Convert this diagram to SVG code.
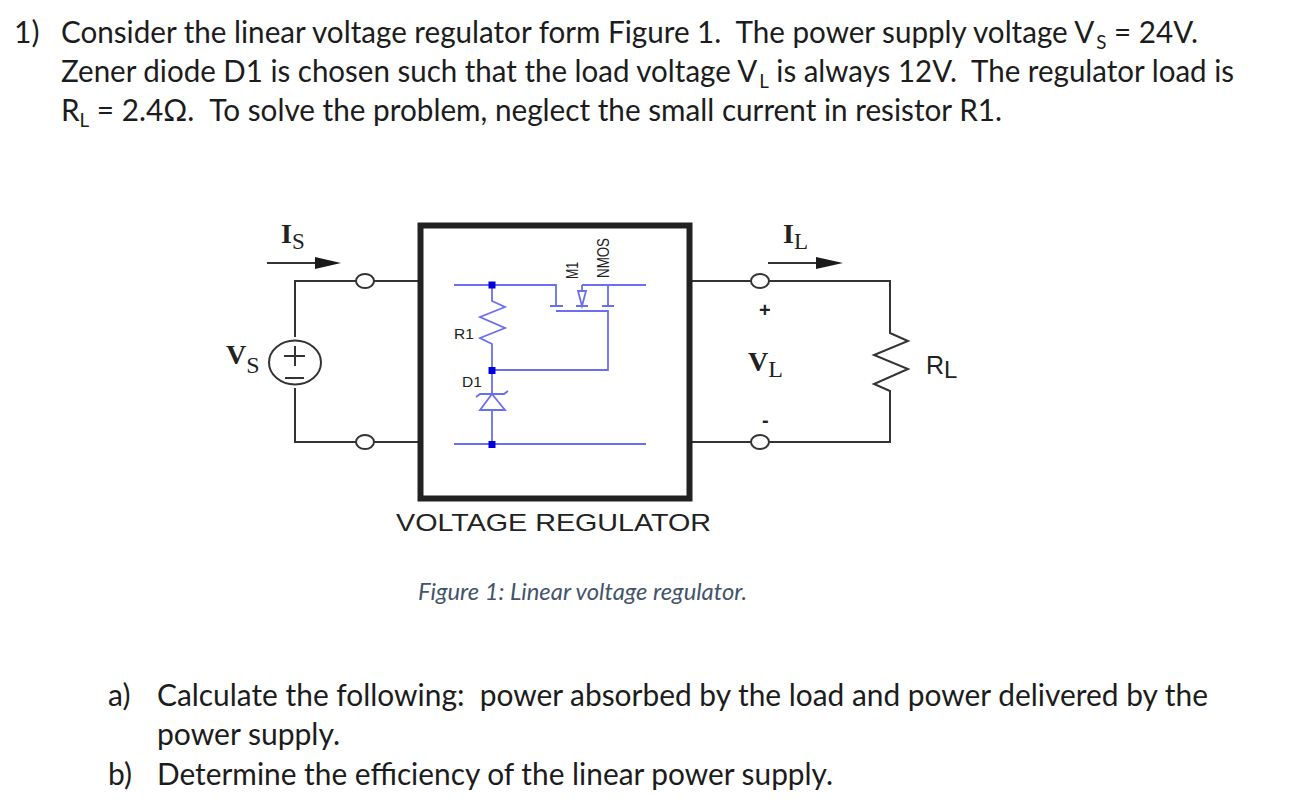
<svg xmlns="http://www.w3.org/2000/svg" width="1296" height="804" viewBox="0 0 1296 804">
<style>
.t{font-family:Lato,"Open Sans","Liberation Sans",sans-serif;font-size:30px;fill:#1c1c1c;white-space:pre}
.c{font-family:Lato,"Open Sans","Liberation Sans",sans-serif;font-size:22.5px;font-style:italic;fill:#44546a}
.s{font-family:"Liberation Serif",serif;font-size:28px;fill:#222}
.b{font-family:"Liberation Sans",sans-serif;fill:#222}
.sub{font-size:19px}
.w{fill:none;stroke:#333;stroke-width:2}
.u{fill:none;stroke:#6a6ff0;stroke-width:1.8}
.d{fill:#0000e0}
.a{fill:#1a1a1a}
</style>
<rect width="1296" height="804" fill="#fff"/>
<g id="question-text">
<text class="t" x="14" y="43">1)</text>
<text class="t" x="61" y="43" textLength="1137" lengthAdjust="spacingAndGlyphs">Consider the linear voltage regulator form Figure 1.  The power supply voltage V<tspan class="sub" dx="2" dy="6">S</tspan><tspan dy="-6"> = 24V.</tspan></text>
<text class="t" x="61" y="82" textLength="1173" lengthAdjust="spacingAndGlyphs">Zener diode D1 is chosen such that the load voltage V<tspan class="sub" dx="2" dy="6">L</tspan><tspan dy="-6"> is always 12V.  The regulator load is</tspan></text>
<text class="t" x="61" y="121" textLength="941" lengthAdjust="spacingAndGlyphs">R<tspan class="sub" dy="6">L</tspan><tspan dy="-6"> = 2.4Ω.  To solve the problem, neglect the small current in resistor R1.</tspan></text>
<text class="t" x="108" y="706">a)</text>
<text class="t" x="157" y="706" textLength="1051" lengthAdjust="spacingAndGlyphs">Calculate the following:  power absorbed by the load and power delivered by the</text>
<text class="t" x="157" y="745" textLength="183" lengthAdjust="spacingAndGlyphs">power supply.</text>
<text class="t" x="108" y="785">b)</text>
<text class="t" x="157" y="785" textLength="676" lengthAdjust="spacingAndGlyphs">Determine the efficiency of the linear power supply.</text>
<text class="c" x="418" y="600" textLength="329" lengthAdjust="spacingAndGlyphs">Figure 1: Linear voltage regulator.</text>
</g>
<g id="connectors">
<path class="w" d="M356 281H295V337M295 388V442H356M374 281H418M374 442H418"/>
<path class="w" d="M692 281H751M769 281H890V333L908 341L874 355L908 369L874 384L890 391V442H769M751 442H692"/>
<path class="w" style="stroke-width:1.8" d="M267 263H316M768 263H818"/>
<path class="a" d="M315 257L341 263L315 269ZM816 257L843 263L816 269Z"/>
<path class="u" d="M454 285H556V306M550 306H563M582 285H646M608 285V306M602 306H614M576 306H588M582 285V291M556 311H608V370H492M492 285V301L505 307L480 317L505 328L480 338L492 344V394M492 410V444M454 444H646"/>
<path class="u" d="M578 291H586L582 306ZM492 394L505 410H480ZM476 397L480 394H504L508 391"/>
</g>
<g id="regulator-box">
<rect x="420.500" y="225.500" width="269" height="273" fill="none" stroke="#222" stroke-width="6"/>
<text class="b" x="396" y="531" font-size="24" textLength="315" lengthAdjust="spacingAndGlyphs" fill="#333">VOLTAGE REGULATOR</text>
</g>
<g id="supply-vs">
<ellipse class="w" cx="295" cy="362.500" rx="26" ry="22"/>
<path class="w" d="M284 356H305M295 346V366M285 378H304"/>
<text class="s" x="226" y="364" font-weight="bold" font-size="24">V<tspan dy="9" font-size="24" font-weight="normal">S</tspan></text>
</g>
<g id="terminal-in-top"><ellipse class="w" cx="365" cy="281" rx="9" ry="7" fill="#fff"/></g>
<g id="terminal-in-bottom"><ellipse class="w" cx="365" cy="442" rx="9" ry="7" fill="#fff"/></g>
<g id="terminal-out-top"><ellipse class="w" cx="760" cy="281" rx="9" ry="7" fill="#fff"/></g>
<g id="terminal-out-bottom"><ellipse class="w" cx="760" cy="442" rx="9" ry="7" fill="#fff"/></g>
<g id="label-is"><text class="s" x="281" y="243" font-weight="bold">I<tspan dy="6" font-size="23" font-weight="normal">S</tspan></text></g>
<g id="label-il"><text class="s" x="783" y="243" font-weight="bold">I<tspan dy="6" font-size="23" font-weight="normal">L</tspan></text></g>
<g id="load-labels">
<text class="b" x="759" y="317" font-size="20" font-weight="bold">+</text>
<text class="b" x="762" y="427" font-size="20" font-weight="bold">-</text>
<text class="s" x="748" y="371" font-weight="bold" font-size="24">V<tspan dy="6" font-size="24" font-weight="normal">L</tspan></text>
<text class="b" x="926" y="374" font-size="25">R<tspan dy="4" font-size="24">L</tspan></text>
</g>
<g id="r1"><text class="b" x="454" y="339" font-size="15.500">R1</text></g>
<g id="d1"><text class="b" x="462" y="387" font-size="15.500">D1</text></g>
<g id="m1">
<text class="b" font-size="16" textLength="17" lengthAdjust="spacingAndGlyphs" transform="translate(578 279) rotate(-90)">M1</text>
<text class="b" font-size="17" textLength="40" lengthAdjust="spacingAndGlyphs" transform="translate(609 278) rotate(-90)">NMOS</text>
</g>
<g id="junctions">
<rect class="d" x="488.500" y="281.500" width="7" height="7"/>
<rect class="d" x="488.500" y="367" width="7" height="7"/>
<rect class="d" x="488.500" y="441" width="7" height="7"/>
</g>
</svg>
